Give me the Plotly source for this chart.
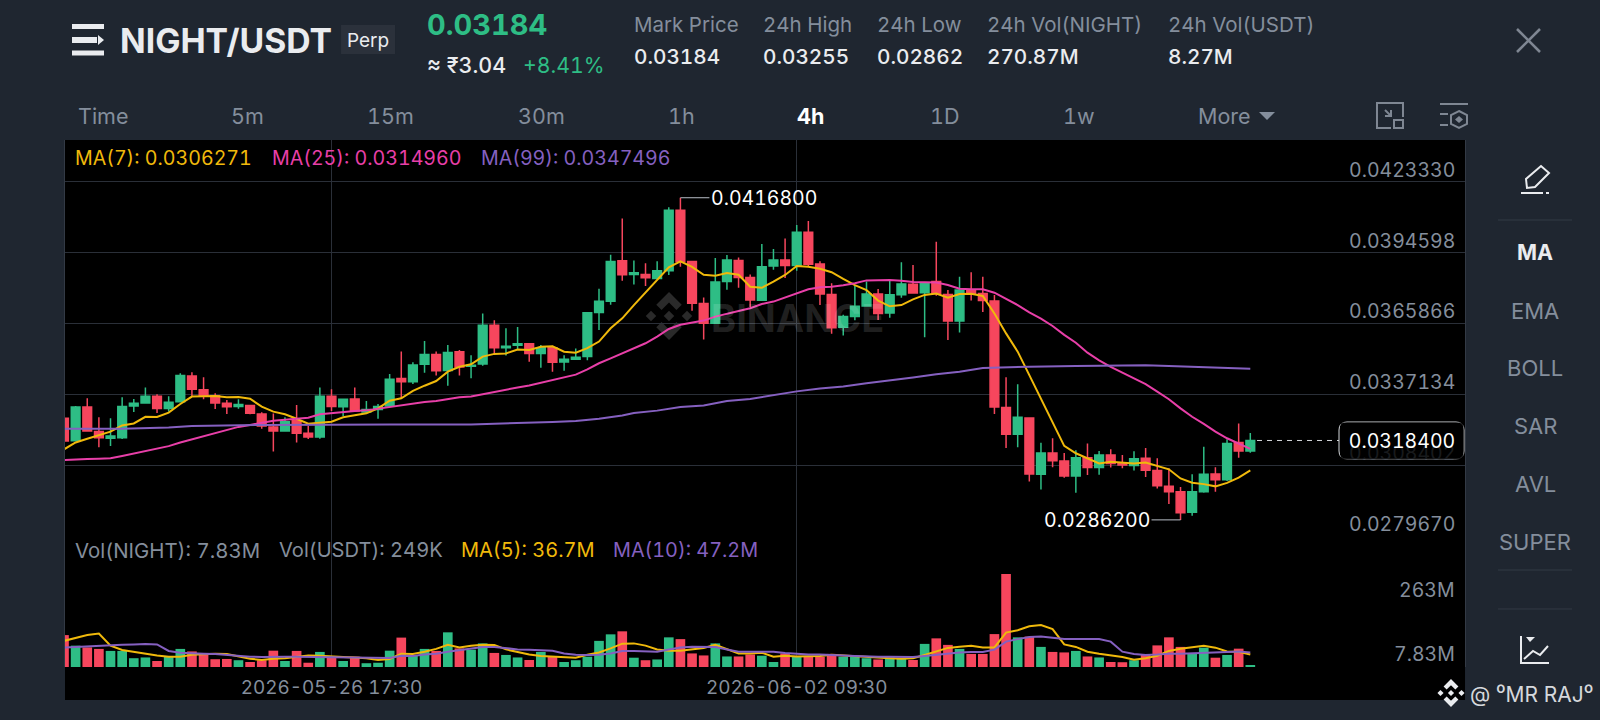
import pandas as pd
import plotly.graph_objects as go

# --- Data (candle prices in 1e-5 USDT, volumes in millions) ---
open_px = [3274,3183,3320,3220,3193,3195,3324,3336,3363,3314,3341,3445,3390,3365,3335,3322,3326,3291,3239,3222,
           3264,3213,3198,3363,3321,3352,3299,3310,3324,3435,3422,3493,3533,3468,3544,3485,3494,3651,3560,3570,
           3576,3537,3560,3502,3513,3524,3703,3748,3913,3857,3857,3841,3872,4117,3910,3739,3659,3828,3914,3845,
           3752,3891,3916,3893,4028,3899,3776,3643,3687,3729,3778,3701,3775,3817,3783,3828,3776,3668,3794,3780,
           3749,3318,3209,3275,3047,3133,3101,3040,3114,3074,3125,3093,3083,3112,3062,2998,2976,2893,2976,3048,
           3025,3176,3141]
high_px = [3341,3324,3355,3278,3274,3359,3352,3399,3371,3363,3457,3461,3440,3375,3348,3351,3326,3298,3293,3278,
           3328,3243,3399,3392,3351,3399,3344,3332,3453,3545,3501,3587,3545,3571,3551,3529,3699,3671,3639,3644,
           3578,3571,3568,3529,3557,3702,3799,3937,4084,3914,3902,3911,4129,4168,3911,3764,3924,3936,3926,3857,
           3980,3960,4003,4057,4074,3911,3821,3694,3810,3828,3798,3832,3907,3895,3821,3990,3794,3848,3866,3848,
           3774,3440,3412,3276,3175,3193,3133,3144,3172,3141,3148,3125,3140,3153,3112,3071,2995,3047,3159,3075,
           3189,3253,3214]
low_px = [3179,3182,3220,3156,3162,3190,3299,3335,3295,3301,3339,3362,3351,3312,3291,3313,3290,3231,3139,3221,
          3176,3190,3191,3303,3283,3301,3294,3272,3321,3355,3413,3459,3447,3406,3447,3436,3487,3534,3528,3551,
          3503,3479,3463,3467,3510,3509,3632,3734,3832,3816,3810,3837,3855,3888,3710,3593,3657,3795,3803,3725,
          3751,3876,3843,3872,3891,3733,3617,3610,3671,3728,3672,3682,3763,3780,3602,3771,3591,3622,3751,3705,
          3291,3153,3157,3018,2985,3075,3033,2972,3044,3045,3074,3071,3062,3036,2989,2926,2862,2879,2972,2976,
          3020,3114,3134]
close_px = [3182,3320,3222,3195,3202,3322,3335,3363,3314,3339,3447,3392,3363,3336,3321,3330,3294,3243,3222,3260,
            3213,3198,3363,3322,3351,3303,3310,3322,3432,3422,3490,3533,3467,3541,3482,3489,3651,3560,3566,3576,
            3537,3560,3501,3513,3521,3702,3748,3910,3856,3864,3844,3872,4117,3909,3740,3659,3826,3916,3845,3753,
            3888,3916,3893,4028,3898,3778,3641,3687,3728,3778,3699,3775,3818,3782,3821,3780,3668,3794,3780,3751,
            3320,3209,3278,3048,3133,3102,3040,3114,3074,3125,3091,3085,3110,3063,3000,2976,2891,2976,3047,3025,
            3172,3141,3184]
ma7 = [3148,3176,3191,3206,3220,3245,3253,3280,3279,3297,3332,3362,3364,3364,3359,3360,3353,3321,3301,3290,
       3272,3252,3256,3260,3278,3287,3294,3314,3345,3355,3385,3406,3425,3463,3483,3493,3524,3535,3537,3553,
       3551,3564,3566,3544,3540,3558,3585,3639,3679,3733,3783,3835,3886,3910,3888,3856,3852,3863,3856,3807,
       3803,3828,3855,3891,3888,3880,3866,3839,3814,3794,3751,3728,3733,3756,3774,3780,3763,3778,3779,3770,
       3699,3618,3544,3449,3355,3260,3162,3132,3112,3091,3098,3093,3091,3095,3080,3067,3030,3013,3007,2998,
       3012,3033,3063]
ma25 = [3105,3108,3109,3110,3112,3121,3131,3140,3151,3161,3176,3189,3199,3213,3228,3239,3247,3256,3264,3268,
        3272,3276,3290,3295,3298,3303,3306,3313,3321,3326,3335,3340,3344,3353,3359,3362,3372,3382,3391,3399,
        3407,3418,3429,3440,3451,3472,3497,3517,3537,3558,3578,3605,3636,3653,3663,3670,3686,3699,3709,3720,
        3737,3747,3764,3783,3797,3805,3807,3813,3821,3833,3835,3835,3831,3826,3825,3824,3814,3799,3797,3797,
        3783,3757,3733,3703,3678,3648,3612,3580,3540,3509,3482,3459,3436,3412,3382,3351,3314,3280,3251,3220,
        3193,3172,3150]
# MA(99) is almost flat, so it is read at fewer candles
ma99_idx = [0,5,9,11,17,22,25,28,35,38,42,44,46,48,49,51,53,55,57,59,61,63,65,67,69,71,73,75,77,79,81,83,87,91,93,95,97,99,102]
ma99 = [3232,3232,3237,3243,3247,3249,3248,3249,3249,3252,3259,3263,3272,3285,3295,3305,3320,3326,3344,3352,3368,
        3383,3395,3403,3416,3426,3439,3452,3463,3478,3482,3483,3486,3487,3489,3486,3482,3478,3475]
volume = [127,85,78,72,64,64,35,38,24,44,72,62,50,31,32,27,20,27,65,24,64,17,60,41,24,41,15,17,65,117,44,72,64,138,74,69,
          94,56,48,38,28,60,41,20,27,41,104,130,142,37,27,30,118,111,54,46,94,42,42,50,45,20,54,41,41,41,52,41,41,35,
          30,38,35,28,92,114,88,72,52,52,131,370,118,121,80,60,58,64,42,38,20,19,27,48,86,118,80,52,77,37,48,73,7.83]
vol_ma5 = [104,114,127,133,85,68,60,53,46,41,41,49,52,53,52,41,33,28,33,35,41,46,45,44,40,38,35,28,32,53,52,61,72,88,78,85,
           89,88,70,60,50,44,42,37,37,49,58,74,93,94,85,70,65,65,69,76,88,70,54,54,57,41,45,42,42,44,49,46,42,38,38,35,
           33,35,48,61,76,81,85,78,78,137,146,162,167,151,90,80,61,53,46,40,29,35,45,64,73,80,85,77,62,61,50]
vol_ma10 = [77,80,81,85,88,89,90,92,90,64,57,54,53,52,48,42,41,40,42,41,41,40,40,40,40,38,37,36,36,45,44,50,53,61,68,73,
            80,80,74,70,69,68,65,54,49,48,49,54,64,64,62,61,70,78,81,80,80,70,61,61,61,61,56,52,50,50,49,46,44,41,41,41,
            40,40,44,49,54,58,60,60,69,101,111,119,121,117,111,111,111,111,101,61,52,48,50,53,53,54,56,58,60,62,58]

first_candle = "2026-05-22 21:30"
x_ticks = ["2026-05-26 17:30", "2026-06-02 09:30"]
price_ticks = [0.0423330, 0.0394598, 0.0365866, 0.0337134, 0.0308402, 0.0279670]
vol_ticks = [263, 7.83]
vol_tick_labels = ["263M", "7.83M"]
last_price = 0.0318400
high_mark = 0.0416800
low_mark = 0.0286200

header_stats = ["Mark Price", "24h High", "24h Low", "24h Vol(NIGHT)", "24h Vol(USDT)"]
header_values = ["0.03184", "0.03255", "0.02862", "270.87M", "8.27M"]
tabs = ["Time", "5m", "15m", "30m", "1h", "4h", "1D", "1w", "More"]
side_tabs = ["MA", "EMA", "BOLL", "SAR", "AVL", "SUPER"]

# --- Colours ---
UP = "#2EBD85"
DOWN = "#F6465D"
PANEL = "#1F2630"
GRID = "#2A2F38"
GREY = "#848E9C"
WHITE = "#EAECEF"
C_MA7 = "#F0B90B"
C_MA25 = "#E83FA8"
C_MA99 = "#8560C0"
FONT = "Inter"

# --- Scales ---
dates = pd.date_range(first_candle, periods=len(open_px), freq="4h")
date_strs = [d.strftime("%Y-%m-%d %H:%M") for d in dates]
step = pd.Timedelta(hours=4)
x_range = [(dates[0] + 0.086 * step).strftime("%Y-%m-%d %H:%M:%S"), (dates[0] + 120.46 * step).strftime("%Y-%m-%d %H:%M:%S")]
opens = [v / 1e5 for v in open_px]
highs = [v / 1e5 for v in high_px]
lows = [v / 1e5 for v in low_px]
closes = [v / 1e5 for v in close_px]
bar_colors = [UP if c >= o else DOWN for o, c in zip(open_px, close_px)]


def px(x):
    return x / 1600


def py(y):
    return 1 - y / 720


def path(points, close=False):
    d = "M" + " L".join(f"{px(x):.5f},{py(y):.5f}" for x, y in points)
    return d + (" Z" if close else "")


shapes = []
annotations = []


def poly(points, fill=None, line=None, width=2, close=True, layer="above"):
    shapes.append(dict(type="path", xref="paper", yref="paper", path=path(points, close), layer=layer,
                       fillcolor=fill or "rgba(0,0,0,0)", line=dict(color=line or "rgba(0,0,0,0)", width=width if line else 0)))


def box(x0, y0, x1, y1, fill=None, line=None, width=2, layer="above"):
    poly([(x0, y0), (x1, y0), (x1, y1), (x0, y1)], fill, line, width, True, layer)


def text(x, y, s, size, color, anchor="left", weight=400):
    annotations.append(dict(xref="paper", yref="paper", x=px(x - 2 if anchor == "left" else x), y=py(y), text=s, showarrow=False,
                            xanchor=anchor, yanchor="middle", font=dict(family=FONT, size=size, color=color, weight=weight)))


def logo(cx, cy, r, fill, layer="above"):
    top = [(0, -1), (.53, -.47), (.31, -.25), (0, -.56), (-.31, -.25), (-.53, -.47)]
    poly([(cx + a * r, cy + b * r) for a, b in top], fill, layer=layer)
    poly([(cx + a * r, cy - b * r) for a, b in top], fill, layer=layer)
    for dx in (-.75, 0, .75):
        poly([(cx + (dx - .22) * r, cy), (cx + dx * r, cy - .22 * r), (cx + (dx + .22) * r, cy), (cx + dx * r, cy + .22 * r)],
             fill, layer=layer)


# --- Traces ---
fig = go.Figure()
fig.add_trace(go.Candlestick(
    x=date_strs, open=opens, high=highs, low=lows, close=closes,
    increasing=dict(line=dict(color=UP, width=1.5), fillcolor=UP),
    decreasing=dict(line=dict(color=DOWN, width=1.5), fillcolor=DOWN),
    hoverinfo="skip", showlegend=False, xaxis="x", yaxis="y"))
for values, color in [(ma7, C_MA7), (ma25, C_MA25)]:
    fig.add_trace(go.Scatter(x=date_strs, y=[v / 1e5 for v in values], mode="lines", line=dict(color=color, width=2),
                             hoverinfo="skip", showlegend=False, xaxis="x", yaxis="y"))
fig.add_trace(go.Scatter(x=[date_strs[i] for i in ma99_idx], y=[v / 1e5 for v in ma99], mode="lines",
                         line=dict(color=C_MA99, width=2), hoverinfo="skip", showlegend=False, xaxis="x", yaxis="y"))
fig.add_trace(go.Bar(x=date_strs, y=volume, marker=dict(color=bar_colors, line=dict(width=0)), hoverinfo="skip",
                     showlegend=False, xaxis="x2", yaxis="y2"))
for values, color in [(vol_ma5, C_MA7), (vol_ma10, C_MA99)]:
    fig.add_trace(go.Scatter(x=date_strs, y=values, mode="lines", line=dict(color=color, width=2),
                             hoverinfo="skip", showlegend=False, xaxis="x2", yaxis="y2"))

# --- Chart panel, watermark, frame ---
box(65, 140, 1465, 700, fill="#000000", layer="below")
logo(669, 316, 24, "#2A2A2A", layer="below")
annotations.append(dict(xref="paper", yref="paper", x=px(797), y=py(318), text="BINANCE", showarrow=False,
                        font=dict(family=FONT, size=38, color="rgba(255,255,255,0.13)", weight=700)))

# --- Header ---
for top in (26.5, 53):
    box(72, top - 2.5, 104, top + 2.5, fill=WHITE)
box(72, 37, 97, 43, fill=WHITE)
poly([(98, 35), (104, 40), (98, 45)], fill=WHITE)
text(120, 40, "NIGHT/USDT", 33.7, WHITE, weight=700)
box(341, 25, 395, 54, fill="#2B313B")
text(368, 40, "Perp", 19, WHITE, "center")
text(427, 25, "0.03184", 29, UP, weight=700)
text(427, 65, "≈ ₹3.04", 21.5, WHITE, weight=500)
text(523, 65, "+8.41%", 21.2, UP)
for x, label, value in zip([634, 763, 877, 987, 1168], header_stats, header_values):
    text(x, 25, label, 20.5, GREY)
    text(x, 57, value, 20.7, WHITE, weight=500)
for seg in ([(1517, 29), (1540, 52)], [(1540, 29), (1517, 52)]):
    poly(seg, line="#7F8793", width=2.5, close=False)

# --- Interval tabs ---
for x, label in zip([103, 247, 390, 541, 681, 810, 945, 1079, 1224], tabs):
    active = label == "4h"
    text(x, 116, label, 21.5, "#FFFFFF" if active else GREY, "center", 700 if active else 400)
poly([(1259, 112), (1275, 112), (1267, 120)], fill=GREY)
ICON = "#7F8793"
box(1377, 103, 1403, 128, line=ICON)
box(1391, 117, 1405, 130, fill=PANEL)
box(1394, 120, 1403, 128, line=ICON)
poly([(1385, 110), (1391, 116)], line=ICON, close=False)
poly([(1385, 116), (1391, 116), (1391, 110)], line=ICON, close=False)
poly([(1440, 104), (1468, 104)], line=ICON, close=False)
poly([(1440, 114), (1448, 114)], line=ICON, close=False)
poly([(1440, 125), (1448, 125)], line=ICON, close=False)
poly([(1459, 111), (1467, 115), (1467, 124), (1459, 128), (1451, 124), (1451, 115)], line=ICON)
poly([(1459, 116), (1463, 119.5), (1459, 123), (1455, 119.5)], fill=ICON)

# --- Side menu ---
for y, label in zip([252, 311, 368, 426, 484, 542], side_tabs):
    active = label == "MA"
    text(1535, y, label, 21.5 if active else 22, WHITE if active else GREY, "center", 700 if active else 400)
for y in (220, 570, 609):
    poly([(1498, y), (1572, y)], line="#333A45", width=1, close=False)
poly([(1527, 188), (1526, 179), (1541, 166), (1549, 173), (1535, 187)], line=WHITE)
poly([(1521, 193), (1543, 193)], line=WHITE, close=False)
poly([(1546, 193), (1549, 193)], line=WHITE, close=False)
poly([(1521, 636), (1521, 663), (1549, 663)], line=WHITE, close=False)
poly([(1524, 659), (1533, 651), (1540, 655), (1548, 646)], line=WHITE, close=False)
poly([(1526, 637), (1535, 637), (1530, 642)], fill=WHITE)
logo(1451, 693, 14, WHITE)
text(1470, 694, "@ ⁰MR RAJ⁰", 21, "#D5D8DC")

# --- Indicator legends ---
text(75, 158, "MA(7): 0.0306271", 19.6, C_MA7)
text(272, 158, "MA(25): 0.0314960", 19.6, C_MA25)
text(481, 158, "MA(99): 0.0347496", 19.6, C_MA99)
text(75, 550, "Vol(NIGHT): 7.83M", 20.4, GREY)
text(279, 550, "Vol(USDT): 249K", 20.1, GREY)
text(461, 550, "MA(5): 36.7M", 20, C_MA7)
text(613, 550, "MA(10): 47.2M", 19.8, C_MA99)

# --- Axis labels, drawn inside the panel above their grid lines ---
for v in price_ticks:
    annotations.append(dict(xref="paper", yref="y", x=px(1457), y=v, text=f"{v:.7f}", showarrow=False, xanchor="right",
                            yanchor="middle", yshift=12, font=dict(family=FONT, size=19.5, color=GREY)))
for v, label in zip(vol_ticks, vol_tick_labels):
    annotations.append(dict(xref="paper", yref="y2", x=px(1457), y=v, text=label, showarrow=False, xanchor="right",
                            yanchor="middle", yshift=11, font=dict(family=FONT, size=19.5, color=GREY)))

# --- High / low markers ---
annotations.append(dict(x=date_strs[high_px.index(max(high_px))], y=high_mark, xref="x", yref="y", text=f"{high_mark:.7f}",
                        showarrow=True, ax=29, ay=0, arrowhead=0, arrowwidth=1, arrowcolor="#B7BDC6", standoff=0,
                        xanchor="left", yanchor="middle", font=dict(family=FONT, size=19.5, color="#FFFFFF")))
annotations.append(dict(x=date_strs[low_px.index(min(low_px))], y=low_mark, xref="x", yref="y", text=f"{low_mark:.7f}",
                        showarrow=True, ax=-29, ay=0, arrowhead=0, arrowwidth=1, arrowcolor="#B7BDC6", standoff=0,
                        xanchor="right", yanchor="middle", font=dict(family=FONT, size=19.5, color="#FFFFFF")))

# --- Last price tag ---
shapes.append(dict(type="line", xref="paper", yref="y", x0=px(1257), x1=px(1339), y0=last_price, y1=last_price,
                   line=dict(color="#D5D8DC", width=1, dash="5px,5px"), layer="above"))
x0, x1, y0, y1, r = px(1339), px(1464), py(459), py(422), 8
rx, ry = r / 1600, r / 720
shapes.append(dict(type="path", xref="paper", yref="paper", layer="above", line=dict(color="#D5D8DC", width=1),
                   path=f"M{x0 + rx},{y1} L{x1 - rx},{y1} Q{x1},{y1} {x1},{y1 - ry} L{x1},{y0 + ry} Q{x1},{y0} {x1 - rx},{y0} "
                        f"L{x0 + rx},{y0} Q{x0},{y0} {x0},{y0 + ry} L{x0},{y1 - ry} Q{x0},{y1} {x0 + rx},{y1} Z"))
annotations.append(dict(xref="paper", yref="y", x=px(1401.5), y=last_price, text=f"{last_price:.7f}", showarrow=False,
                        xanchor="center", yanchor="middle", yshift=-1, width=120, height=34, align="center",
                        bgcolor="rgba(0,0,0,0.82)", font=dict(family=FONT, size=19.5, color="#FFFFFF")))

# --- Layout ---
fig.update_layout(
    width=1600, height=720, margin=dict(l=0, r=0, t=0, b=0),
    paper_bgcolor=PANEL, plot_bgcolor="#000000", showlegend=False, hovermode=False,
    boxgap=0.25, boxgroupgap=0, bargap=0.17, dragmode=False,
    xaxis=dict(domain=[px(65), px(1465)], anchor="y", type="date", range=x_range, tickmode="array", tickvals=x_ticks,
               showticklabels=False, showgrid=True, gridcolor=GRID, zeroline=False, rangeslider=dict(visible=False)),
    xaxis2=dict(domain=[px(65), px(1465)], anchor="y2", type="date", range=x_range, tickmode="array", tickvals=x_ticks,
                tickformat="%Y-%m-%d %H:%M", showgrid=True, gridcolor=GRID, zeroline=False,
                ticks="outside", ticklen=3, tickcolor="rgba(0,0,0,0)", tickfont=dict(family=FONT, size=18.9, color=GREY)),
    yaxis=dict(domain=[py(536), py(140)], anchor="x", range=[0.027967, 0.044021], tickmode="array", tickvals=price_ticks,
               showticklabels=False, showgrid=True, gridcolor=GRID, zeroline=False,
               showline=True, mirror=True, linecolor="#333A45", linewidth=1),
    yaxis2=dict(domain=[py(667), py(536)], anchor="x2", range=[0, 521.4], tickmode="array", tickvals=[0, 521.4],
                showticklabels=False, showgrid=True, gridcolor=GRID, zeroline=False,
                showline=True, mirror=True, linecolor="#333A45", linewidth=1),
    shapes=shapes, annotations=annotations,
)

# tabular digits as in the app; font sizes get a tiny bump so plotly measures the text again with them
fig.write_html("out.html", config={"displayModeBar": False},
               post_script="document.body.style.margin='0';document.body.style.fontFeatureSettings='\"tnum\"';"
                           "var gd=document.getElementById('{plot_id}');"
                           "gd.layout.annotations.forEach(function(a){a.font.size+=0.01;});"
                           "Plotly.redraw(gd);")
